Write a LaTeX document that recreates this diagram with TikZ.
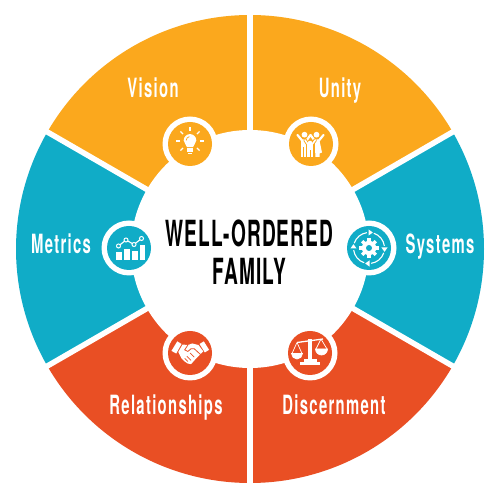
\documentclass[tikz,border=0pt]{standalone}
\usepackage{fontspec}
\setmainfont{TeX Gyre Heros}
\newfontfamily\labelfont[FakeStretch=0.56,LetterSpace=5]{TeX Gyre Heros Bold}
\newfontfamily\titlefont[FakeStretch=0.53,LetterSpace=3]{TeX Gyre Heros Bold}
\definecolor{gold}{HTML}{FBA81D}
\definecolor{teal}{HTML}{10ACC7}
\definecolor{rust}{HTML}{E94F24}
\tikzset{
  seglabel/.style={text=white,font=\labelfont\fontsize{26.5}{28}\selectfont,inner sep=0pt,anchor=base},
  midlabel/.style={text=black,font=\titlefont\fontsize{36}{38}\selectfont,inner sep=0pt,anchor=base},
  gapline/.style={white,line width=5.5pt},
  ink/.style={white,line width=1.1pt}
}
\newcommand{\sector}[3]{\fill[#1] (250,251) -- ++(#2:234) arc[start angle=#2,end angle=#3,radius=234] -- cycle;}
\newcommand{\badge}[3]{\fill[white] (#2,#3) circle (27.5); \fill[#1] (#2,#3) circle (22);}
\begin{document}
\begin{tikzpicture}[x=1pt,y=1pt]
\useasboundingbox (0,0) rectangle (500,500);
\fill[white] (0,0) rectangle (500,500);
\sector{gold}{30}{90}
\sector{gold}{90}{150}
\sector{teal}{150}{210}
\sector{teal}{-30}{30}
\sector{rust}{210}{270}
\sector{rust}{270}{330}
\foreach \a in {30,90,150,210,270,330}
  \draw[gapline] (250,251) -- ++(\a:240);
\fill[white] (250,251) circle (119);
\badge{gold}{190}{356}
\badge{gold}{311}{356}
\badge{teal}{129}{252}
\badge{teal}{369}{252}
\badge{rust}{190}{147}
\badge{rust}{310}{147}
% bulb
\begin{scope}[shift={(190,356)}]
 \fill[white] (-3,-3.2) .. controls (-3.2,-.5) and (-6.3,.2) .. (-6.3,3.6)
    arc[start angle=180,end angle=0,radius=6.3]
    .. controls (6.3,.2) and (3.2,-.5) .. (3,-3.2) -- cycle;
 \fill[white] (-3,-4) rectangle (3,-5.6);
 \fill[white] (-3,-6.4) rectangle (3,-8);
 \fill[white] (-1.8,-8.8) rectangle (1.8,-10.4);
 \draw[gold,line width=.7pt] (-3.8,3.6) arc[start angle=180,end angle=100,radius=3.8];
 \begin{scope}[shift={(0,3)}]
 \foreach \a in {0,45,90,135,180,-45,-135}
   \draw[ink] (\a:9.8) -- (\a:13.6);
 \end{scope}
\end{scope}
% family
\begin{scope}[shift={(310.5,356)}]
 \fill[white] (-6,9.3) circle (2.9);
 \fill[white] (6,9.3) circle (2.9);
 \draw[white,line width=2.2pt,line cap=round] (-13,9) -- (-8.5,3.5) -- (-4,3.5) -- (0,9);
 \draw[white,line width=2.2pt,line cap=round] (13,9) -- (8.5,3.5) -- (4,3.5) -- (0,9);
 \fill[white] (-10,3.5) rectangle (-4.5,-13);
 \fill[white] (4,3.5) -- (9,3.5) -- (11.5,-8.5) -- (9,-9.5) -- (9,-13) -- (5,-13) -- cycle;
 \draw[gold,line width=.8pt] (-7.3,-3) -- (-7.3,-13);
 \fill[gold] (-4.6,2.7) rectangle (4,-14);
 \draw[gold,line width=3.4pt,line cap=round] (-5.5,4) -- (-3,.2) -- (2,.2) -- (4.8,4);
 \draw[white,line width=1.6pt,line cap=round] (-5.5,4) -- (-3,.2) -- (2,.2) -- (4.8,4);
 \fill[white] (-.5,1) circle (2.3);
 \fill[white] (-3.5,-.5) rectangle (2.8,-13);
 \draw[gold,line width=.8pt] (-.4,-6.5) -- (-.4,-13);
\end{scope}
% metrics
\begin{scope}[shift={(129,252)}]
 \fill[white] (-13,-12) rectangle (-7.5,-4.5);
 \fill[white] (-5,-12) rectangle (.5,-1);
 \fill[white] (3,-12) rectangle (8.5,-3);
 \fill[white] (11,-12) rectangle (16,2.5);
 \draw[ink] (-10.5,2) -- (-3,8) -- (5,3.5) -- (12.5,9.5);
 \foreach \p in {(-10.5,2),(-3,8),(5,3.5),(12.5,9.5)}
   \draw[white,fill=teal,line width=1pt] \p circle (2);
\end{scope}
% systems
\begin{scope}[shift={(369,252)}]
 \foreach \a in {0,45,...,315}
   \fill[white,rotate=\a] (-1.7,6) rectangle (1.7,9.6);
 \fill[white] (0,0) circle (7.2);
 \fill[teal] (0,0) circle (3);
 \foreach \a in {0,90,180,270}{
   \draw[ink,rotate=\a] (72:15.5) arc[start angle=72,end angle=8,radius=15.5];
   \fill[white,rotate=\a] (18.6,.5) -- (12.4,.5) -- (15.5,-3.8) -- cycle;
 }
\end{scope}
% handshake
\begin{scope}[shift={(190,147)},scale=1.06]
 \fill[white] (-17.5,2) -- (-12,11) -- (-8,8.5) -- (-13,-.5) -- cycle;
 \fill[white] (18,3) -- (13,11) -- (9,8.5) -- (14,.5) -- cycle;
 \fill[white] (-11,1) -- (-7,8) -- (-2,7.5) -- (2,9) -- (8,7.5) -- (12.5,1.5) -- (5,-6) -- (1,-10.5) -- (-2,-10) -- (-5,-8) -- (-8,-5) -- cycle;
 \draw[rust,line width=.8pt] (-2,7.5) -- (-5,3) -- (-2,1.5) -- (1,4) -- (4,4) -- (10,-1.5);
 \draw[rust,line width=.7pt] (4,-4) -- (0,0) (1,-7) -- (-3,-3) (-2,-8) -- (-5,-5);
\end{scope}
% scales
\begin{scope}[shift={(310,147)}]
 \fill[white] (-10.5,-9) rectangle (10,-12.5);
 \fill[white] (-6.5,-6.5) rectangle (6.5,-9);
 \fill[white] (-1.6,-6.5) rectangle (1.6,13.5);
 \draw[white,line width=1.3pt] (-13,10.5) -- (13,14);
 \draw[white,line width=.7pt] (-13,10.5) -- (-18,-.5) (-13,10.5) -- (-8,-.5);
 \draw[white,line width=.7pt] (11,14) -- (6,4) (11,14) -- (17,4);
 \draw[white,fill=white,line width=.7pt] (-18.5,-.5) -- (-7.5,-.5) arc[start angle=0,end angle=-180,radius=5.5] -- cycle;
 \draw[white,fill=white,line width=.7pt] (5.5,4) -- (17.5,4) arc[start angle=0,end angle=-180,radius=6] -- cycle;
\end{scope}
\node[seglabel] (vision) at (153,402) {Vision};
\node[seglabel] (unity) at (340,402) {Unity};
\node[seglabel] (metrics) at (61,246) {Metrics};
\node[seglabel] (systems) at (440,246) {Systems};
\node[seglabel] (relationships) at (166,85) {Relationships};
\node[seglabel] (discernment) at (334,85) {Discernment};
\node[midlabel] (well) at (249.5,253) {WELL-ORDERED};
\node[midlabel] (family) at (249.5,215) {FAMILY};
\end{tikzpicture}
\end{document}
